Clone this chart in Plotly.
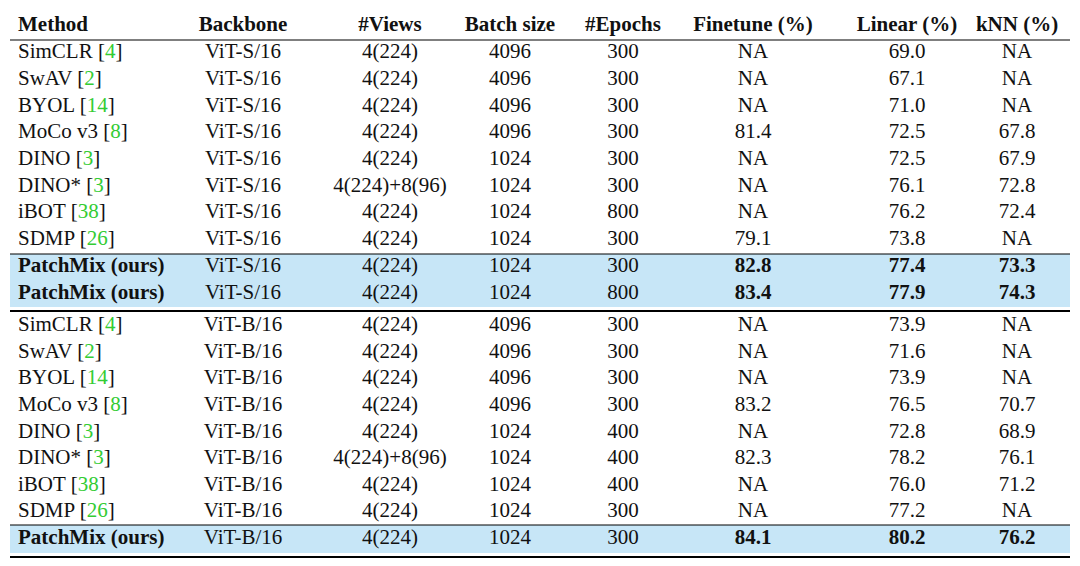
import plotly.graph_objects as go

G = "<span style='color:#33cc33'>{}</span>"
methods = ["SimCLR [%s]" % G.format(4), "SwAV [%s]" % G.format(2), "BYOL [%s]" % G.format(14),
           "MoCo v3 [%s]" % G.format(8), "DINO [%s]" % G.format(3), "DINO* [%s]" % G.format(3),
           "iBOT [%s]" % G.format(38), "SDMP [%s]" % G.format(26)]
headers = ["Method", "Backbone", "#Views", "Batch size", "#Epochs", "Finetune (%)", "Linear (%)", "kNN (%)"]

small_rows = [
    ["ViT-S/16", "4(224)", "4096", "300", "NA", "69.0", "NA"],
    ["ViT-S/16", "4(224)", "4096", "300", "NA", "67.1", "NA"],
    ["ViT-S/16", "4(224)", "4096", "300", "NA", "71.0", "NA"],
    ["ViT-S/16", "4(224)", "4096", "300", "81.4", "72.5", "67.8"],
    ["ViT-S/16", "4(224)", "1024", "300", "NA", "72.5", "67.9"],
    ["ViT-S/16", "4(224)+8(96)", "1024", "300", "NA", "76.1", "72.8"],
    ["ViT-S/16", "4(224)", "1024", "800", "NA", "76.2", "72.4"],
    ["ViT-S/16", "4(224)", "1024", "300", "79.1", "73.8", "NA"],
]
small_ours = [
    ["ViT-S/16", "4(224)", "1024", "300", "82.8", "77.4", "73.3"],
    ["ViT-S/16", "4(224)", "1024", "800", "83.4", "77.9", "74.3"],
]
base_rows = [
    ["ViT-B/16", "4(224)", "4096", "300", "NA", "73.9", "NA"],
    ["ViT-B/16", "4(224)", "4096", "300", "NA", "71.6", "NA"],
    ["ViT-B/16", "4(224)", "4096", "300", "NA", "73.9", "NA"],
    ["ViT-B/16", "4(224)", "4096", "300", "83.2", "76.5", "70.7"],
    ["ViT-B/16", "4(224)", "1024", "400", "NA", "72.8", "68.9"],
    ["ViT-B/16", "4(224)+8(96)", "1024", "400", "82.3", "78.2", "76.1"],
    ["ViT-B/16", "4(224)", "1024", "400", "NA", "76.0", "71.2"],
    ["ViT-B/16", "4(224)", "1024", "300", "NA", "77.2", "NA"],
]
base_ours = [
    ["ViT-B/16", "4(224)", "1024", "300", "84.1", "80.2", "76.2"],
]

col_x = [18, 243, 390, 510, 623, 753, 907, 1017]
FONT = "Liberation Serif, Times New Roman, serif"

# assemble rows: (method, cells, bold, y)
rows = []
y = 53
for m, r in zip(methods, small_rows):
    rows.append((m, r, False, y)); y += 26.7
for r in small_ours:
    rows.append(("PatchMix (ours)", r, True, y)); y += 26.7
y = 326
for m, r in zip(methods, base_rows):
    rows.append((m, r, False, y)); y += 26.6
for r in base_ours:
    rows.append(("PatchMix (ours)", r, True, y)); y += 26.6

fig = go.Figure()
shapes = [
    dict(type="rect", x0=10, x1=1070, y0=254, y1=307, fillcolor="#c7e6f7", line_width=0, layer="below"),
    dict(type="rect", x0=10, x1=1070, y0=525, y1=553, fillcolor="#c7e6f7", line_width=0, layer="below"),
]
for yy, w in [(6, 2.2), (40, 1.2), (254, 1), (311, 2.2), (525, 1), (557, 2.2)]:
    shapes.append(dict(type="line", x0=10, x1=1070, y0=yy, y1=yy, line=dict(color="black", width=w)))

def add_col(xs, ys, texts, pos):
    fig.add_trace(go.Scatter(x=xs, y=ys, text=texts, mode="text", textposition=pos,
                             textfont=dict(family=FONT, size=21, color="#111"), hoverinfo="skip"))

# header
add_col([col_x[0]], [26], ["<b>Method</b>"], "middle right")
add_col(col_x[1:], [26] * 7, ["<b>%s</b>" % h for h in headers[1:]], "middle center")

for m, cells, bold, yy in rows:
    add_col([col_x[0]], [yy], ["<b>%s</b>" % m if bold else m], "middle right")
    texts = [c for c in cells]
    if bold:
        texts = texts[:4] + ["<b>%s</b>" % c for c in texts[4:]]
    add_col(col_x[1:], [yy] * 7, texts, "middle center")

# page body has an 8px margin, so shift the ranges to line up with the window
fig.update_layout(
    width=1080, height=566, margin=dict(l=0, r=0, t=0, b=0),
    paper_bgcolor="white", plot_bgcolor="white", showlegend=False, shapes=shapes,
    xaxis=dict(range=[8, 1088], visible=False, fixedrange=True),
    yaxis=dict(range=[574, 8], visible=False, fixedrange=True),
)
fig.write_html("out.html")
